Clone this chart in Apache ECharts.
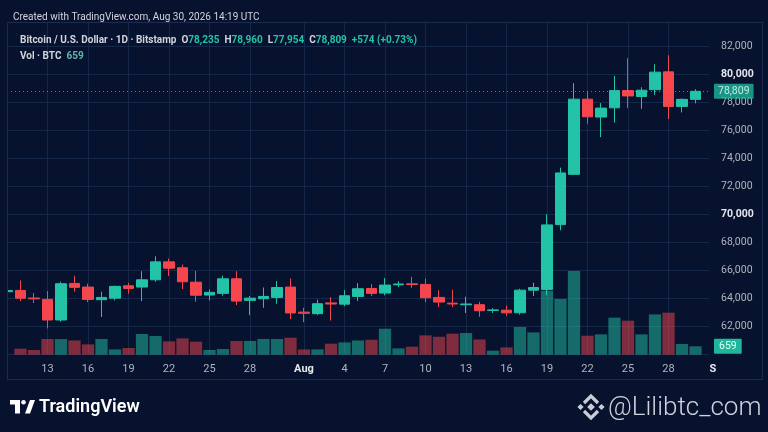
<!DOCTYPE html>
<html>
<head>
<meta charset="utf-8">
<script src="https://cdn.jsdelivr.net/npm/echarts@6/dist/echarts.min.js"></script>
<style>
html,body{margin:0;padding:0;background:#07122e;}
#c{width:768px;height:432px;}
</style>
</head>
<body>
<div id="c"></div>
<script>
const dates = ['Jul 10','Jul 11','Jul 12','Jul 13','Jul 14','Jul 15','Jul 16','Jul 17','Jul 18','Jul 19','Jul 20',
  'Jul 21','Jul 22','Jul 23','Jul 24','Jul 25','Jul 26','Jul 27','Jul 28','Jul 29','Jul 30','Jul 31',
  'Aug 1','Aug 2','Aug 3','Aug 4','Aug 5','Aug 6','Aug 7','Aug 8','Aug 9','Aug 10','Aug 11','Aug 12',
  'Aug 13','Aug 14','Aug 15','Aug 16','Aug 17','Aug 18','Aug 19','Aug 20','Aug 21','Aug 22','Aug 23',
  'Aug 24','Aug 25','Aug 26','Aug 27','Aug 28','Aug 29','Aug 30','Aug 31'];
const tickDates = ['Jul 13','Jul 16','Jul 19','Jul 22','Jul 25','Jul 28','Aug 1','Aug 4','Aug 7','Aug 10',
  'Aug 13','Aug 16','Aug 19','Aug 22','Aug 25','Aug 28'];
const opens  = [64500,64590,64050,63950,62480,65090,64830,63930,64040,64920,64830,65350,66630,66210,65180,64260,
  64380,65420,63880,64000,64090,64830,63040,62930,63700,63610,64160,64730,64400,64990,65060,65020,64090,63680,
  63570,63570,63160,63180,63000,64610,64660,69290,72880,78250,76970,77630,78860,78440,78930,80200,77730,78235];
const closes = [64580,64040,63990,62480,65070,64810,63950,64090,64880,64730,65350,66630,66180,65210,64250,64450,
  65420,63830,64040,64160,64800,62980,62960,63640,63620,64210,64710,64380,64970,65050,65010,64070,63760,63620,
  63620,63140,63200,62990,64610,64800,69270,72980,78250,76990,77610,78860,78480,78890,80180,77730,78235,78809];
const lows   = [64450,63830,63690,61880,62360,64500,63760,62690,63880,64360,63830,65210,65610,64690,63790,63880,
  64210,63540,62830,63350,63640,62540,62320,62830,62440,63470,63830,64190,64240,64830,64780,63760,63400,63400,
  62980,62710,62980,62780,62860,64190,64240,68880,72830,76490,75540,76580,77630,77560,78560,76830,77300,77954];
const highs  = [64620,65300,64400,64540,65210,65640,65070,64500,64930,65140,65960,67030,66870,66440,65990,64660,
  65640,65960,64190,64800,65250,65440,63350,63930,64110,64610,65110,65040,65470,65250,65570,65440,64610,64640,
  64140,63780,63320,63500,64710,65140,70030,73360,79390,78790,77970,79910,81170,79100,80750,81390,78300,78960];
const volumes = [null,470,370,1230,1225,1120,810,1230,415,525,1625,1465,1045,1280,1020,370,445,1075,1075,1230,
  1230,1335,415,415,865,965,1120,1175,2040,495,630,1515,1410,1650,1700,1200,315,575,2175,1750,5020,4370,6570,
  1490,1595,2905,2670,1595,3160,3295,840,659];

const UP = '#22c3a6', DOWN = '#f6464d', TAG = '#1fb79b';
const BG = '#07122e', GRID = '#16284a';
const fmt = v => Number(v).toLocaleString('en-US');

const last = closes.length - 1;
const kData = opens.map((o, i) => [o, closes[i], lows[i], highs[i]]);
const volData = volumes.map((v, i) => v == null ? '-' : {
  value: v,
  itemStyle: { color: closes[i] >= opens[i] ? UP : DOWN, opacity: 0.5 }
});
const chg = closes[last] - opens[last];
const chgPct = (chg / opens[last] * 100).toFixed(2);
const isTick = idx => tickDates.indexOf(dates[idx]) >= 0;

const chart = echarts.init(document.getElementById('c'), null, { renderer: 'canvas' });
chart.setOption({
  backgroundColor: BG,
  animation: false,
  textStyle: { fontFamily: 'Roboto, "Noto Sans", sans-serif' },
  title: [
    { text: 'Created with TradingView.com, Aug 30, 2026 14:19 UTC', left: 8, top: 7,
      textStyle: { fontSize: 10, fontWeight: 'normal', color: '#d1d4dc', fontFamily: 'Roboto' } },
    { text: '{n|Bitcoin / U.S. Dollar · 1D · Bitstamp}  {n|O}{v|' + fmt(opens[last]) + '}  {n|H}{v|' + fmt(highs[last]) +
        '}  {n|L}{v|' + fmt(lows[last]) + '}  {n|C}{v|' + fmt(closes[last]) + '}  {v|' + (chg >= 0 ? '+' : '') + fmt(chg) +
        ' (' + (chg >= 0 ? '+' : '') + chgPct + '%)}',
      left: 15, top: 30,
      textStyle: { fontSize: 10, rich: {
        n: { fontSize: 10, color: '#d1d4dc', fontFamily: 'Roboto' },
        v: { fontSize: 10, color: UP, fontFamily: 'Roboto' } } } },
    { text: '{n|Vol · BTC}  {v|' + fmt(volumes[last]) + '}', left: 15, top: 46,
      textStyle: { fontSize: 10, rich: {
        n: { fontSize: 10, color: '#d1d4dc', fontFamily: 'Roboto' },
        v: { fontSize: 10, color: '#5fb8ad', fontFamily: 'Roboto' } } } }
  ],
  grid: { left: 7, right: 59, top: 22, bottom: 77.3, containLabel: false },
  xAxis: {
    type: 'category', data: dates, boundaryGap: false,
    axisLine: { show: false }, axisTick: { show: false },
    axisLabel: {
      interval: idx => isTick(idx), margin: 9, fontSize: 11, color: '#b2b5be',
      formatter: v => v === 'Aug 1' ? '{b|Aug}' : v.split(' ')[1],
      rich: { b: { fontSize: 11, fontWeight: 'bold', color: '#e6e8ee' } }
    },
    splitLine: { show: true, interval: idx => isTick(idx), lineStyle: { color: GRID, width: 1 } }
  },
  yAxis: [
    { type: 'value', position: 'right', min: 60000, max: 83760, interval: 2000, scale: true,
      axisLine: { show: false }, axisTick: { show: false },
      axisLabel: { margin: 12, fontSize: 10.5, color: '#b2b5be',
        formatter: v => (v % 2000 !== 0 || v === 60000) ? '' : (v % 10000 === 0 ? '{b|' + fmt(v) + '}' : fmt(v)),
        rich: { b: { fontSize: 10.5, fontWeight: 'bold', color: '#e6e8ee' } } },
      splitLine: { lineStyle: { color: GRID, width: 1 } } },
    { type: 'value', min: 0, max: 26100, show: false, splitLine: { show: false } }
  ],
  series: [
    { type: 'bar', name: 'Vol', xAxisIndex: 0, yAxisIndex: 1, data: volData, barWidth: '91%', z: 1,
      markLine: { silent: true, symbol: ['none', 'none'], animation: false,
        lineStyle: { color: 'transparent', width: 0 },
        data: [{ yAxis: volumes[last] }],
        label: { position: 'end', distance: 5, formatter: () => fmt(volumes[last]), color: '#e8fff9',
          backgroundColor: TAG, padding: [2, 5, 2, 5], fontSize: 10.5, borderRadius: 1 } } },
    { type: 'candlestick', name: 'BTCUSD', data: kData, barWidth: '78%', z: 3,
      itemStyle: { color: UP, color0: DOWN, borderColor: UP, borderColor0: DOWN, borderWidth: 1 },
      markLine: { silent: true, symbol: ['none', 'none'], animation: false,
        lineStyle: { color: UP, type: [1, 3], width: 1, opacity: 0.8 },
        data: [{ yAxis: closes[last] }],
        label: { position: 'end', distance: 5, formatter: () => fmt(closes[last]), color: '#e8fff9',
          backgroundColor: TAG, padding: [2, 4, 2, 4], fontSize: 10.5, borderRadius: 1 } } }
  ],
  graphic: [
    { type: 'rect', silent: true, z: 99, shape: { x: 0, y: 22, width: 7.5, height: 358 },
      style: { fill: BG } },
    { type: 'rect', silent: true, z: 100, shape: { x: 7.5, y: 22.5, width: 755, height: 357 },
      style: { fill: 'none', stroke: '#1b2c4d', lineWidth: 1 } },
    { type: 'text', silent: true, z: 100, x: 713, y: 369,
      style: { text: 'S', fill: '#e6e8ee', font: 'bold 11px Roboto', textAlign: 'center', textVerticalAlign: 'middle' } },
    // TradingView logo + text
    { type: 'rect', silent: true, shape: { x: 10, y: 400, width: 10, height: 4.5 }, style: { fill: '#ffffff' } },
    { type: 'rect', silent: true, shape: { x: 15, y: 400, width: 5, height: 13.5 }, style: { fill: '#ffffff' } },
    { type: 'circle', silent: true, shape: { cx: 23.5, cy: 402.3, r: 2.3 }, style: { fill: '#ffffff' } },
    { type: 'polygon', silent: true, shape: { points: [[25, 413.5], [30, 400], [35, 400], [30, 413.5]] }, style: { fill: '#ffffff' } },
    { type: 'text', silent: true, x: 39, y: 407,
      style: { text: 'TradingView', fill: '#ffffff', font: '600 18px Roboto', textVerticalAlign: 'middle' } },
    // Binance-style mark + handle
    { type: 'polyline', silent: true, shape: { points: [[584, 403], [591, 396], [598, 403]] }, style: { stroke: '#c9cdd6', lineWidth: 3.2, fill: 'none' } },
    { type: 'polyline', silent: true, shape: { points: [[584, 411], [591, 418], [598, 411]] }, style: { stroke: '#c9cdd6', lineWidth: 3.2, fill: 'none' } },
    { type: 'rect', silent: true, x: 591, y: 407, rotation: Math.PI / 4, shape: { x: -2.7, y: -2.7, width: 5.4, height: 5.4 }, style: { fill: '#c9cdd6' } },
    { type: 'rect', silent: true, x: 580.5, y: 407, rotation: Math.PI / 4, shape: { x: -2.2, y: -2.2, width: 4.4, height: 4.4 }, style: { fill: '#c9cdd6' } },
    { type: 'rect', silent: true, x: 601.5, y: 407, rotation: Math.PI / 4, shape: { x: -2.2, y: -2.2, width: 4.4, height: 4.4 }, style: { fill: '#c9cdd6' } },
    { type: 'text', silent: true, x: 608, y: 408,
      style: { text: '@Lilibtc_com', fill: '#cfd3dc', font: '300 26px Roboto', textVerticalAlign: 'middle' } }
  ]
});
</script>
</body>
</html>
